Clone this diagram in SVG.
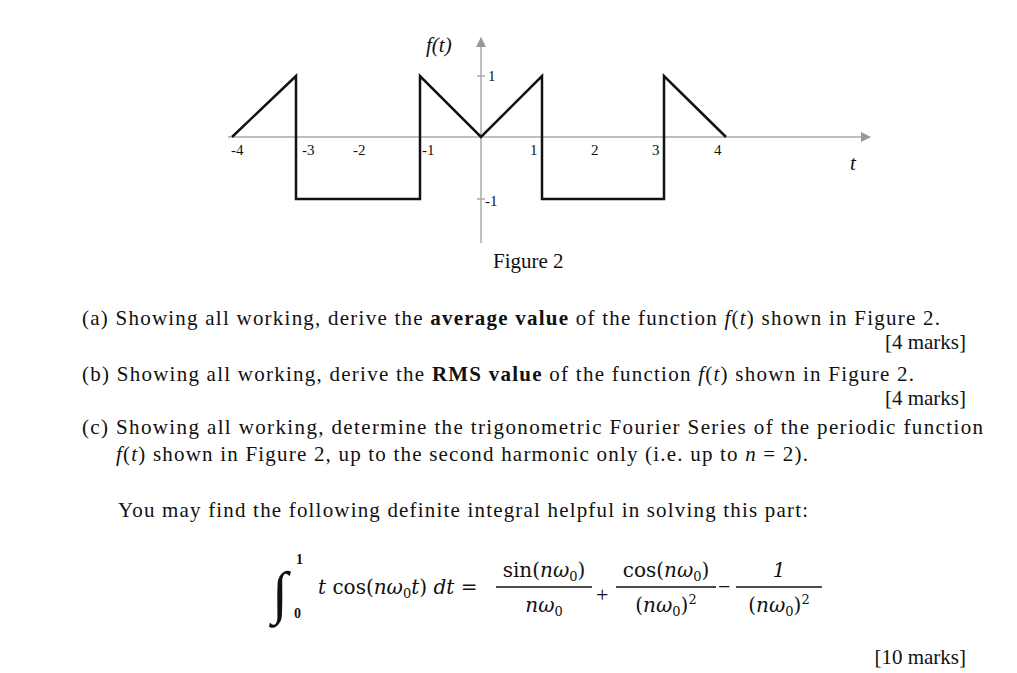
<svg xmlns="http://www.w3.org/2000/svg" width="1017" height="673" viewBox="0 0 1017 673">
<style>
text{font-family:"Liberation Serif",serif;fill:#111}
.t{font-size:21px}
.l{font-size:15px}
.m{font-family:"DejaVu Serif","Liberation Serif",serif;font-size:20px;font-style:italic}
</style>
<defs><marker id="ar" markerWidth="10" markerHeight="10" refX="9" refY="5" orient="auto" markerUnits="userSpaceOnUse"><path d="M0,0 L10,5 L0,10 z" fill="#999"/></marker></defs>
<rect width="1017" height="673" fill="#fff"/>
<g id="axes" stroke="#aaa" stroke-width="1.5">
<line x1="228" y1="137" x2="870" y2="137" marker-end="url(#ar)"/>
<line x1="481" y1="243" x2="481" y2="38" marker-end="url(#ar)"/>
<line x1="477" y1="76" x2="485" y2="76"/><line x1="477" y1="199" x2="485" y2="199"/>
</g>
<g id="labels">
<text x="426" y="52" class="t" font-style="italic">f(t)</text>
<text x="488" y="81" class="l">1</text>
<text x="485" y="206" class="l">-1</text>
<text x="231" y="155" class="l">-4</text><text x="302" y="155" class="l">-3</text><text x="353" y="155" class="l">-2</text><text x="422" y="155" class="l">-1</text>
<text x="530" y="155" class="l">1</text><text x="591" y="155" class="l">2</text><text x="652" y="155" class="l">3</text><text x="714" y="155" class="l">4</text>
<text x="850" y="170" class="t" font-style="italic">t</text>
</g>
<g id="signal"><path d="M232,137 L296,76 L296,199 L420,199 L420,76 L481,137 L542,76 L542,199 L664,199 L664,76 L726,137" fill="none" stroke="#111" stroke-width="2.5"/></g>
<g id="text">
<text x="493" y="268" class="t">Figure 2</text>
<text x="82" y="325" class="t" textLength="858" lengthAdjust="spacing">(a) Showing all working, derive the <tspan font-weight="bold">average value</tspan> of the function <tspan font-style="italic">f</tspan>(<tspan font-style="italic">t</tspan>) shown in Figure 2.</text>
<text x="966" y="349" class="t" text-anchor="end">[4 marks]</text>
<text x="82" y="381" class="t" textLength="832" lengthAdjust="spacing">(b) Showing all working, derive the <tspan font-weight="bold">RMS value</tspan> of the function <tspan font-style="italic">f</tspan>(<tspan font-style="italic">t</tspan>) shown in Figure 2.</text>
<text x="966" y="405" class="t" text-anchor="end">[4 marks]</text>
<text x="82" y="434" class="t" textLength="901" lengthAdjust="spacing">(c) Showing all working, determine the trigonometric Fourier Series of the periodic function</text>
<text x="116" y="461" class="t" textLength="692" lengthAdjust="spacing"><tspan font-style="italic">f</tspan>(<tspan font-style="italic">t</tspan>) shown in Figure 2, up to the second harmonic only (i.e. up to <tspan font-style="italic">n</tspan> = 2).</text>
<text x="118" y="517" class="t" textLength="690" lengthAdjust="spacing">You may find the following definite integral helpful in solving this part:</text>
<text x="966" y="664" class="t" text-anchor="end">[10 marks]</text>
</g>
<g id="formula">
<text x="272" y="612" font-size="58" font-family="DejaVu Sans,sans-serif">∫</text>
<text x="296" y="564" font-size="14" font-family="DejaVu Serif,serif" font-weight="bold">1</text>
<text x="294" y="618" font-size="14" font-family="DejaVu Serif,serif" font-weight="bold">0</text>
<text x="318" y="594" class="m"><tspan>t</tspan><tspan font-style="normal"> cos(</tspan>nω<tspan font-style="normal" font-size="13" dy="4">0</tspan><tspan dy="-4">t</tspan><tspan font-style="normal">) </tspan>dt <tspan font-style="normal">=</tspan></text>
<text x="544" y="577" class="m" text-anchor="middle"><tspan font-style="normal">sin(</tspan>nω<tspan font-style="normal" font-size="13" dy="4">0</tspan><tspan font-style="normal" dy="-4">)</tspan></text>
<line x1="496" y1="587" x2="592" y2="587" stroke="#111" stroke-width="1.3"/>
<text x="544" y="612" class="m" text-anchor="middle">nω<tspan font-style="normal" font-size="13" dy="4">0</tspan></text>
<text x="596" y="602" font-size="22" font-family="DejaVu Sans,sans-serif">+</text>
<text x="666" y="577" class="m" text-anchor="middle"><tspan font-style="normal">cos(</tspan>nω<tspan font-style="normal" font-size="13" dy="4">0</tspan><tspan font-style="normal" dy="-4">)</tspan></text>
<line x1="616" y1="587" x2="716" y2="587" stroke="#111" stroke-width="1.3"/>
<text x="666" y="612" class="m" text-anchor="middle"><tspan font-style="normal">(</tspan>nω<tspan font-style="normal" font-size="13" dy="4">0</tspan><tspan font-style="normal" dy="-4">)</tspan><tspan font-style="normal" font-size="13" dy="-8">2</tspan></text>
<text x="718" y="594" font-size="22" font-family="DejaVu Sans,sans-serif">−</text>
<text x="779" y="577" class="m" font-style="normal" text-anchor="middle">1</text>
<line x1="736" y1="587" x2="822" y2="587" stroke="#111" stroke-width="1.3"/>
<text x="779" y="612" class="m" text-anchor="middle"><tspan font-style="normal">(</tspan>nω<tspan font-style="normal" font-size="13" dy="4">0</tspan><tspan font-style="normal" dy="-4">)</tspan><tspan font-style="normal" font-size="13" dy="-8">2</tspan></text>
</g>
</svg>
